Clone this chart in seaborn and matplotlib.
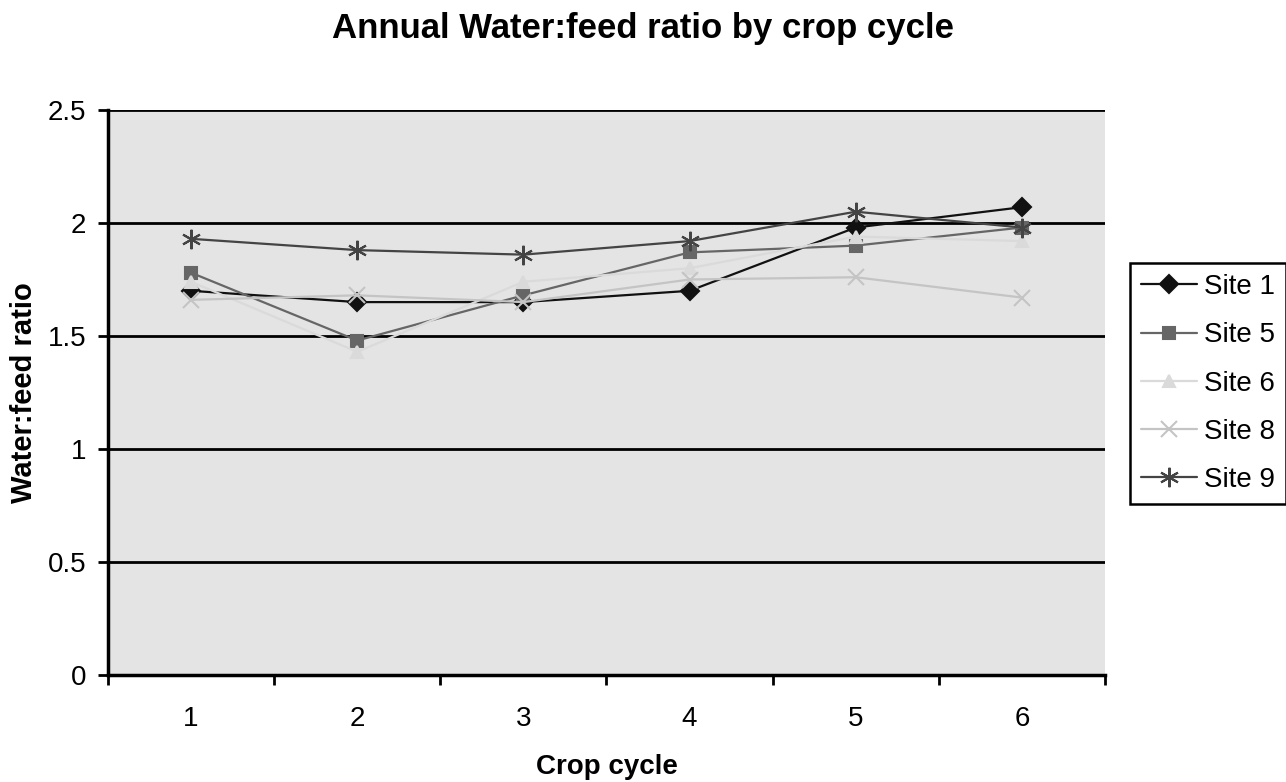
import matplotlib
matplotlib.use("Agg")
import matplotlib.pyplot as plt
import seaborn as sns
import numpy as np
import pandas as pd

cycles = [1, 2, 3, 4, 5, 6]
site1 = [1.70, 1.65, 1.65, 1.70, 1.98, 2.07]
site5 = [1.78, 1.48, 1.68, 1.87, 1.90, 1.98]
site6 = [1.74, 1.43, 1.74, 1.80, 1.94, 1.92]
site8 = [1.66, 1.68, 1.65, 1.75, 1.76, 1.67]
site9 = [1.93, 1.88, 1.86, 1.92, 2.05, 1.98]
site_names = ["Site 1", "Site 5", "Site 6", "Site 8", "Site 9"]
y_ticks = [0, 0.5, 1, 1.5, 2, 2.5]
y_tick_labels = ["0", "0.5", "1", "1.5", "2", "2.5"]

sns.set_theme(style="white")
plt.rcParams['font.family'] = ['Liberation Sans', 'DejaVu Sans']
plt.rcParams['text.color'] = 'black'
plt.rcParams['axes.labelcolor'] = 'black'
plt.rcParams['xtick.color'] = 'black'
plt.rcParams['ytick.color'] = 'black'

fig = plt.figure(figsize=(12.86, 7.82), dpi=100)
ax = fig.add_axes([108/1286, 1 - 675/782, (1105-108)/1286, (675-110)/782])
ax.set_facecolor("#e4e4e4")

series = [site1, site5, site6, site8, site9]
colors = ["#111111", "#666666", "#dadada", "#c4c4c4", "#444444"]
markers = ["D", "s", "^", "x", (6, 2, 0)]
msizes = [9, 8, 9, 11, 14]

for ax_y in y_ticks[1:]:
    ax.axhline(ax_y, color="black", lw=2, zorder=1)

for name, vals, c, m, ms in zip(site_names, series, colors, markers, msizes):
    sns.lineplot(x=cycles, y=vals, ax=ax, color=c, marker=m, markersize=ms,
                 markeredgecolor=c, markerfacecolor=c, markeredgewidth=1.5,
                 lw=1.6, label=name, zorder=3)

ax.set_xlim(0.5, 6.5)
ax.set_ylim(0, 2.5)
ax.set_yticks(y_ticks)
ax.set_yticklabels(y_tick_labels, fontsize=20)
ax.set_xticks(np.arange(0.5, 7.0, 1.0))
ax.set_xticklabels([])
ax.set_xticks(cycles, minor=True)
ax.set_xticklabels([str(c) for c in cycles], minor=True, fontsize=20)
ax.tick_params(axis="x", which="major", direction="out", length=7.5, width=2, bottom=True)
ax.tick_params(axis="x", which="minor", length=0, pad=22)
ax.tick_params(axis="y", direction="out", length=7.5, width=2, left=True, pad=8)

for s in ["top", "right"]:
    ax.spines[s].set_visible(False)
for s in ["left", "bottom"]:
    ax.spines[s].set_color("black")
    ax.spines[s].set_linewidth(2.5)

ax.set_xlabel("Crop cycle", fontsize=20, fontweight="bold", labelpad=16)
ax.set_ylabel("Water:feed ratio", fontsize=21, fontweight="bold", labelpad=7)
fig.suptitle("Annual Water:feed ratio by crop cycle", fontsize=25, fontweight="bold", y=0.985)

leg = ax.legend(loc="upper left", bbox_to_anchor=(1130/1286, 1 - 263/782),
                bbox_transform=fig.transFigure, frameon=True, fancybox=False,
                fontsize=20, handlelength=2.0, labelspacing=0.8,
                borderpad=0.4, handletextpad=0.25, borderaxespad=0)
leg.get_frame().set_edgecolor("black")
leg.get_frame().set_linewidth(1.8)
leg.get_frame().set_facecolor("white")
leg.get_frame().set_alpha(1)

fig.savefig("out.png", dpi=100, facecolor="white")
